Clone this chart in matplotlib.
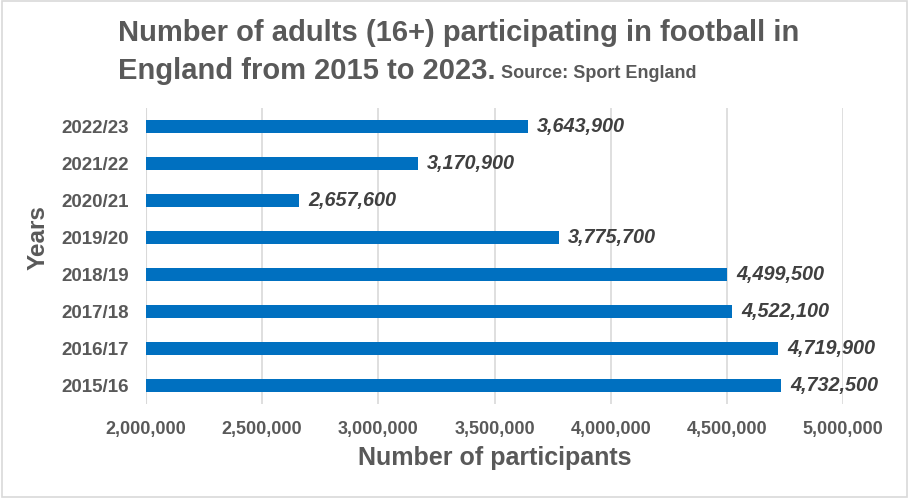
import matplotlib.pyplot as plt
from matplotlib.patches import Rectangle
from matplotlib.ticker import FuncFormatter

years = ["2015/16", "2016/17", "2017/18", "2018/19", "2019/20", "2020/21", "2021/22", "2022/23"]
participants = [4732500, 4719900, 4522100, 4499500, 3775700, 2657600, 3170900, 3643900]
x_ticks = [2000000, 2500000, 3000000, 3500000, 4000000, 4500000, 5000000]

GREY = "#595959"
BLUE = "#0070C0"

plt.rcParams["font.family"] = ["Liberation Sans", "DejaVu Sans"]

fig = plt.figure(figsize=(9.09, 4.98), dpi=100)
ax = fig.add_axes([146 / 909, 1 - 404 / 498, (843 - 146) / 909, (404 - 108) / 498])

ax.barh(years, participants, height=0.35, color=BLUE, zorder=3)
for i, v in enumerate(participants):
    ax.text(v + 40000, i, f"{v:,}", va="center", ha="left", fontsize=14.3,
            fontweight="bold", fontstyle="italic", color="#404040")

ax.set_xlim(2000000, 5000000)
ax.set_ylim(-0.5, len(years) - 0.5)
ax.set_xticks(x_ticks)
ax.xaxis.set_major_formatter(FuncFormatter(lambda x, p: f"{int(x):,}"))
ax.grid(axis="x", color="#d9d9d9", linewidth=1.2, zorder=0)
for s in ax.spines.values():
    s.set_visible(False)
ax.axvline(2000000, color="#d9d9d9", linewidth=1.5, zorder=1)
ax.tick_params(axis="both", length=0)
ax.tick_params(axis="y", pad=12, labelsize=13.5, labelcolor=GREY)
ax.tick_params(axis="x", pad=12, labelsize=13, labelcolor=GREY)
for lab in ax.get_yticklabels():
    lab.set_fontweight("bold")
for lab in ax.get_xticklabels():
    lab.set_fontweight("bold")

ax.set_xlabel("Number of participants", fontsize=18, fontweight="bold", color=GREY, labelpad=6)
ax.set_ylabel("Years", fontsize=17.5, fontweight="bold", color=GREY)
ax.yaxis.set_label_coords(38 / 909, 1 - 238 / 498, transform=fig.transFigure)
ax.yaxis.label.set_va("center")

fig.text(118 / 909, 1 - 33 / 498, "Number of adults (16+) participating in football in",
         fontsize=21, fontweight="bold", color=GREY, va="center", ha="left")
fig.text(118 / 909, 1 - 71 / 498, "England from 2015 to 2023.",
         fontsize=21, fontweight="bold", color=GREY, va="center", ha="left")
fig.text(501 / 909, 1 - 73 / 498, "Source: Sport England",
         fontsize=13, fontweight="bold", color=GREY, va="center", ha="left")

fig.patches.append(Rectangle((0.002, 0.003), 0.996, 0.994, transform=fig.transFigure,
                             fill=False, edgecolor="#d9d9d9", linewidth=1.2))

fig.savefig("out.png", dpi=100)
